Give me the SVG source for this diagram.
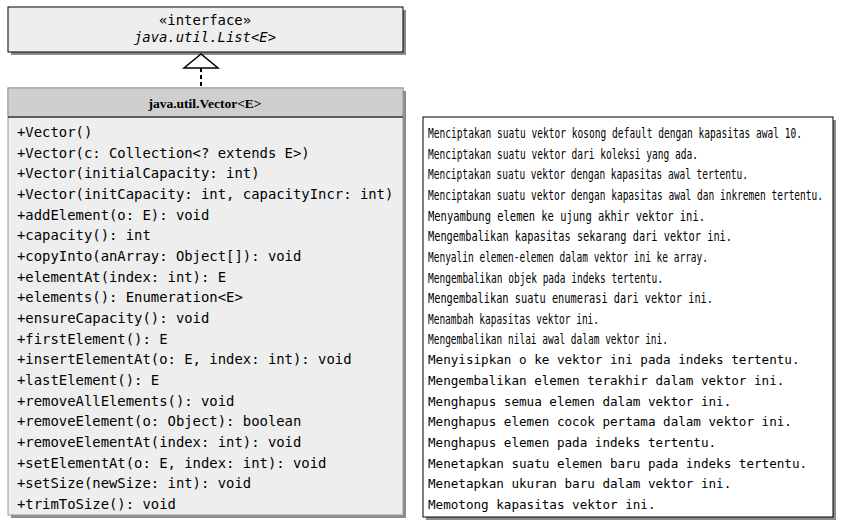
<svg xmlns="http://www.w3.org/2000/svg" width="841" height="532" viewBox="0 0 841 532">
<style>
.box{stroke:#000;stroke-width:1}
.sh{fill:#8a8a8a}
.m{font-family:"DejaVu Sans Mono","Liberation Mono",monospace;font-size:13.9px;fill:#000}
.d{font-family:"DejaVu Sans Mono","Liberation Mono",monospace;font-size:14px;fill:#000}
.e{font-family:"DejaVu Sans Mono","Liberation Mono",monospace;font-size:12.6px;fill:#000}
</style>
<rect width="841" height="532" fill="#fff"/>
<g id="list">
<rect class="sh" x="11" y="10" width="395" height="45"/>
<rect class="box" x="8" y="7" width="395" height="45" fill="#eeeeee" stroke="#999"/>
<text class="m" x="205" y="25" text-anchor="middle">«interface»</text>
<text class="m" x="205" y="42" text-anchor="middle" font-style="italic">java.util.List&lt;E&gt;</text>
</g>
<g id="connectors">
<line x1="201" y1="68" x2="201" y2="88" stroke="#000" stroke-width="2" stroke-dasharray="4,3"/>
<polygon points="201,54 184,68 218,68" fill="#fff" stroke="#000" stroke-width="1.5"/>
</g>
<g id="vector">
<rect class="sh" x="11" y="91" width="395" height="427"/>
<rect x="8" y="88" width="395" height="427" fill="#eeeeee" stroke="#999"/>
<rect x="8" y="88" width="395" height="29" fill="#cfcfcf" stroke="#999"/>
<line x1="8" y1="117" x2="403" y2="117" stroke="#000"/>
<text x="205" y="108" text-anchor="middle" font-family="Liberation Serif,serif" font-weight="bold" font-size="13.5">java.util.Vector&lt;E&gt;</text>
<text class="m" x="17" y="137">+Vector()</text>
<text class="m" x="17" y="158">+Vector(c: Collection&lt;? extends E&gt;)</text>
<text class="m" x="17" y="178">+Vector(initialCapacity: int)</text>
<text class="m" x="17" y="199">+Vector(initCapacity: int, capacityIncr: int)</text>
<text class="m" x="17" y="220">+addElement(o: E): void</text>
<text class="m" x="17" y="240">+capacity(): int</text>
<text class="m" x="17" y="261">+copyInto(anArray: Object[]): void</text>
<text class="m" x="17" y="282">+elementAt(index: int): E</text>
<text class="m" x="17" y="302">+elements(): Enumeration&lt;E&gt;</text>
<text class="m" x="17" y="323">+ensureCapacity(): void</text>
<text class="m" x="17" y="344">+firstElement(): E</text>
<text class="m" x="17" y="364">+insertElementAt(o: E, index: int): void</text>
<text class="m" x="17" y="385">+lastElement(): E</text>
<text class="m" x="17" y="406">+removeAllElements(): void</text>
<text class="m" x="17" y="426">+removeElement(o: Object): boolean</text>
<text class="m" x="17" y="447">+removeElementAt(index: int): void</text>
<text class="m" x="17" y="468">+setElementAt(o: E, index: int): void</text>
<text class="m" x="17" y="488">+setSize(newSize: int): void</text>
<text class="m" x="17" y="509">+trimToSize(): void</text>
</g>
<g id="desc">
<rect class="sh" x="426" y="120" width="410" height="400"/>
<rect x="423" y="117" width="410" height="400" fill="#fff" stroke="#000"/>
<g class="d">
<text x="428" y="138" textLength="374" lengthAdjust="spacingAndGlyphs">Menciptakan suatu vektor kosong default dengan kapasitas awal 10.</text>
<text x="428" y="159" textLength="270" lengthAdjust="spacingAndGlyphs">Menciptakan suatu vektor dari koleksi yang ada.</text>
<text x="428" y="179" textLength="320" lengthAdjust="spacingAndGlyphs">Menciptakan suatu vektor dengan kapasitas awal tertentu.</text>
<text x="428" y="200" textLength="395" lengthAdjust="spacingAndGlyphs">Menciptakan suatu vektor dengan kapasitas awal dan inkremen tertentu.</text>
<text x="428" y="221" textLength="277" lengthAdjust="spacingAndGlyphs">Menyambung elemen ke ujung akhir vektor ini.</text>
<text x="428" y="241" textLength="304" lengthAdjust="spacingAndGlyphs">Mengembalikan kapasitas sekarang dari vektor ini.</text>
<text x="428" y="262" textLength="280" lengthAdjust="spacingAndGlyphs">Menyalin elemen-elemen dalam vektor ini ke array.</text>
<text x="428" y="283" textLength="235" lengthAdjust="spacingAndGlyphs">Mengembalikan objek pada indeks tertentu.</text>
<text x="428" y="303" textLength="285" lengthAdjust="spacingAndGlyphs">Mengembalikan suatu enumerasi dari vektor ini.</text>
<text x="428" y="324" textLength="171" lengthAdjust="spacingAndGlyphs">Menambah kapasitas vektor ini.</text>
<text x="428" y="344" textLength="240" lengthAdjust="spacingAndGlyphs">Mengembalikan nilai awal dalam vektor ini.</text>
</g>
<text class="e" x="428" y="364">Menyisipkan o ke vektor ini pada indeks tertentu.</text>
<text class="e" x="428" y="385">Mengembalikan elemen terakhir dalam vektor ini.</text>
<text class="e" x="428" y="406">Menghapus semua elemen dalam vektor ini.</text>
<text class="e" x="428" y="426">Menghapus elemen cocok pertama dalam vektor ini.</text>
<text class="e" x="428" y="447">Menghapus elemen pada indeks tertentu.</text>
<text class="e" x="428" y="468">Menetapkan suatu elemen baru pada indeks tertentu.</text>
<text class="e" x="428" y="488">Menetapkan ukuran baru dalam vektor ini.</text>
<text class="e" x="428" y="509">Memotong kapasitas vektor ini.</text>
</g>
</svg>
